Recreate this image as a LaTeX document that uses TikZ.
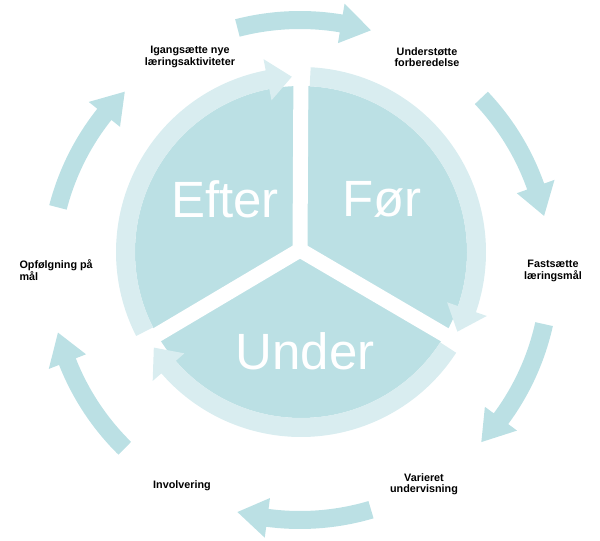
\documentclass[tikz,border=0pt]{standalone}
\usepackage{fontspec}
\setmainfont{Liberation Sans}
\definecolor{dark}{HTML}{BBE0E4}
\definecolor{light}{HTML}{D9EDF0}
\tikzset{
  lbl/.style={font=\bfseries\fontsize{10.8}{11.5}\selectfont, align=center, text=black},
  big/.style={font=\fontsize{51}{54}\selectfont, text=white},
}
% #1 radius, #2 half width, #3 head half width, #4 start, #5 end, #6 head angle
\newcommand{\arcarrow}[6]{%
  \path (#4:#1+#2) arc[start angle=#4,end angle=#5+#6,radius=#1+#2]
    -- (#5+#6:#1+#3) -- (#5:#1) -- (#5+#6:#1-#3) -- (#5+#6:#1-#2)
    arc[start angle=#5+#6,end angle=#4,radius=#1-#2] -- cycle;}
\begin{document}
\begin{tikzpicture}[x=1pt,y=1pt]
\useasboundingbox (0,0) rectangle (600,541);
% inner pie
\begin{scope}[shift={(301,289)}]
  \fill[dark] (0,0) circle[radius=166];
  \draw[white,line width=15] (-1,2) -- (90:190);
  \draw[white,line width=15] (-1,2) -- (-30:190);
  \draw[white,line width=15] (-1,2) -- (210:190);
  \begin{scope}[every path/.style={fill=light}]
    \arcarrow{175.5}{9.5}{21}{87}{-27}{8}
    \arcarrow{175.5}{9.5}{21}{-33}{-147}{8}
    \arcarrow{175.5}{9.5}{21}{207}{93}{8}
  \end{scope}
\end{scope}
\node[big] (efter) at (225,342) {Efter};
\node[big] (for) at (382,342) {Før};
\node[big] (under) at (305,190) {Under};
% outer arrows
\begin{scope}[shift={(300,271)},every path/.style={fill=dark}]
  \arcarrow{250}{9}{20}{104.5}{73.5}{7}
  \arcarrow{250}{9}{20}{43.5}{12.5}{7}
  \arcarrow{250}{9}{20}{-12.5}{-43.5}{7}
  \arcarrow{250}{9}{20}{-73.5}{-104.5}{7}
  \arcarrow{250}{9}{20}{-134.5}{-165.5}{7}
  \arcarrow{250}{9}{20}{165.5}{134.5}{7}
\end{scope}
% labels
\node[lbl] (l1) at (190,484) {Igangsætte nye\\læringsaktiviteter};
\node[lbl] (l2) at (427,484) {Understøtte\\forberedelse};
\node[lbl] (l3) at (553,270) {Fastsætte\\læringsmål};
\node[lbl] (l4) at (424,57) {Varieret\\undervisning};
\node[lbl] (l5) at (182,55) {Involvering};
\node[lbl,align=left,anchor=west] (l6) at (16,271) {Opfølgning på\\mål};
\end{tikzpicture}
\end{document}
